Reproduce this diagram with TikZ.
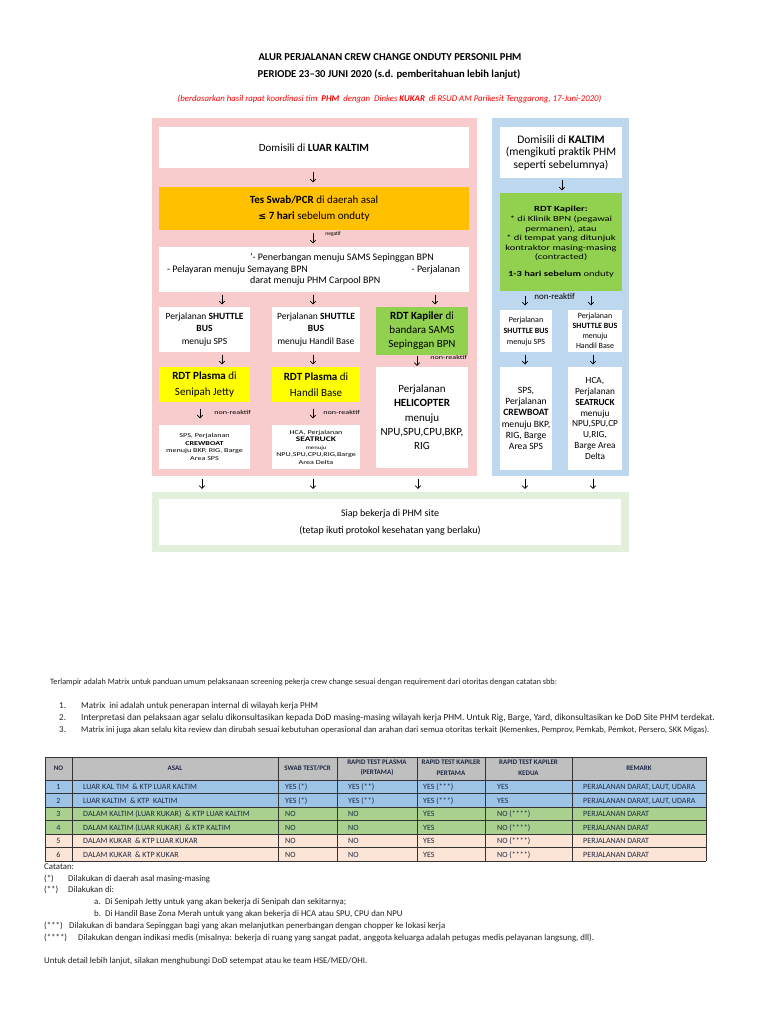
\documentclass[tikz,border=0pt]{standalone}
\usepackage{fontspec}
\setmainfont{Carlito}
\newfontfamily\wf[FakeStretch=1.35]{Carlito}
\newfontfamily\dvs{DejaVu Sans}
\usetikzlibrary{arrows.meta,calc}
\definecolor{pinkc}{HTML}{F8CBCD}
\definecolor{bluec}{HTML}{BDD7EE}
\definecolor{greenl}{HTML}{E2EFDA}
\definecolor{orangec}{HTML}{FFC000}
\definecolor{greenc}{HTML}{92D050}
\definecolor{yellowc}{HTML}{FFFF00}
\definecolor{redc}{HTML}{FF0000}
\definecolor{hdr}{HTML}{BFBFBF}
\definecolor{rowb}{HTML}{9DC3E6}
\definecolor{rowg}{HTML}{A9D08E}
\definecolor{rowp}{HTML}{FCE4D6}
\definecolor{celltext}{HTML}{1F2A44}
\definecolor{bodytext}{HTML}{222222}
\newcommand{\fsz}[2]{\fontsize{#1}{#2}\selectfont}
\newcommand{\tabrow}[9]{%
 \node[cell, anchor=base] (r#1n) at (58.5,#2) {#3};
 \node[cell] (r#1a) at (83,#2) {#4};
 \node[cell] (r#1s) at (285,#2) {#5};
 \node[cell] (r#1p) at (348,#2) {#6};
 \node[cell] (r#1k) at (423,#2) {#7};
 \node[cell] (r#1d) at (497,#2) {#8};
 \node[cell] (r#1r) at (583,#2) {#9};}
\begin{document}
\begin{tikzpicture}[x=1pt,y=-1pt,
  bx/.style 2 args={minimum width=#1, minimum height=#2, inner sep=0pt, outer sep=0pt, align=center},
  arr/.style={-{Straight Barb[length=2.8pt,width=5.4pt]}, line width=0.8pt, shorten <=#1, shorten >=#1},
  arr/.default=3pt,
  lab/.style={inner sep=0pt, font=\wf\fsz{6}{7}},
  txt/.style={inner sep=0pt, anchor=base west, font=\fsz{8.8}{11}, text=bodytext},
  cell/.style={inner sep=0pt, anchor=base west, font=\fsz{8}{9}, text=celltext},
  hcell/.style={inner sep=0pt, align=center, font=\bfseries\fsz{7}{10.5}, text=celltext},
  gridl/.style={draw=black!80, line width=0.6pt}
]
\useasboundingbox (0,0) rectangle (768,1024);
\fill[white] (0,0) rectangle (768,1024);

% ---------- titles
\node[font=\bfseries\fsz{10.6}{12}] (t1) at (390,57) {ALUR PERJALANAN CREW CHANGE ONDUTY PERSONIL PHM};
\node[font=\bfseries\fsz{10.6}{12}] (t2) at (389,74) {PERIODE 23–30 JUNI 2020 (s.d. pemberitahuan lebih lanjut)};
\node[font=\itshape\fsz{8.8}{10}, text=redc] (t3) at (389.5,99) {(berdasarkan hasil rapat koordinasi tim \ \textbf{PHM} \ dengan \ Dinkes \textbf{KUKAR} \ di RSUD AM Parikesit Tenggarong, 17-Juni-2020)};

% ---------- panels
\node[bx={325}{358}, fill=pinkc] (pink) at (314.5,297) {};
\node[bx={137}{358}, fill=bluec] (blue) at (560.5,297) {};
\node[bx={477}{60}, fill=greenl] (finp) at (390.5,522) {};
\node[bx={462}{46}, fill=white, font=\fsz{10}{17}] (fin) at (390,522) {Siap bekerja di PHM site\\(tetap ikuti protokol kesehatan yang berlaku)};

% ---------- pink column
\node[bx={310}{41}, fill=white, font=\fsz{11}{13}] (dom1) at (314,147.5) {Domisili di \textbf{LUAR KALTIM}};
\node[bx={310}{43}, fill=orangec, font=\fsz{11}{16}] (swab) at (314,208.5) {\textbf{Tes Swab/PCR} di daerah asal\\\textbf{{\dvs\fsz{9.5}{16}≤} 7 hari} sebelum onduty};
\node[bx={310}{45}, fill=white, font=\fsz{10}{11.7}] (travel) at (314,269.5) {\makebox[300pt][l]{\hspace*{86pt}'- Penerbangan menuju SAMS Sepinggan BPN}\\\makebox[300pt][l]{\hspace*{3pt}- Pelayaran menuju Semayang BPN\hfill - Perjalanan\hspace*{4pt}}\\\makebox[300pt][l]{\hspace*{86pt}darat menuju PHM Carpool BPN}};

\node[bx={91}{45}, fill=white, font=\fsz{9.5}{12.5}] (c1r1) at (204.5,329.5) {Perjalanan \textbf{SHUTTLE}\\\textbf{BUS}\\menuju SPS};
\node[bx={88}{45}, fill=white, font=\fsz{9.5}{12.5}] (c2r1) at (316,329.5) {Perjalanan \textbf{SHUTTLE}\\\textbf{BUS}\\menuju Handil Base};
\node[bx={92}{48}, fill=greenc, font=\fsz{11}{14}] (c3r1) at (422,331) {\textbf{RDT Kapiler} di\\bandara SAMS\\Sepinggan BPN};

\node[bx={91}{35}, fill=yellowc, font=\fsz{11}{16}] (c1r2) at (204.5,384.5) {\textbf{RDT Plasma} di\\Senipah Jetty};
\node[bx={88}{35}, fill=yellowc, font=\fsz{11}{16}] (c2r2) at (316,384.5) {\textbf{RDT Plasma} di\\Handil Base};
\node[bx={92}{101}, fill=white, font=\fsz{11}{14.3}] (c3r2) at (422,417.5) {Perjalanan\\\textbf{HELICOPTER}\\menuju\\NPU,SPU,CPU,BKP,\\RIG};

\node[bx={91}{44}, fill=white, font=\wf\fsz{6}{7.8}] (c1r3) at (204.5,447) {SPS, Perjalanan\\\textbf{CREWBOAT}\\menuju BKP, RIG, Barge\\Area SPS};
\node[bx={88}{44}, fill=white, font=\wf\fsz{6}{7.5}] (c2r3) at (316,447) {HCA, Perjalanan\\\textbf{\fsz{7}{7.5}SEATRUCK}\\{\fsz{5}{7.5}menuju}\\NPU,SPU,CPU,RIG,Barge\\Area Delta};

% ---------- blue column
\node[bx={122}{51}, fill=white, font=\fsz{11.5}{12.5}] (dom2) at (561,152.5) {Domisili di \textbf{KALTIM}\\(mengikuti praktik PHM\\seperti sebelumnya)};
\node[bx={122}{98}, fill=greenc, font=\wf\fsz{7.8}{9.6}] (g2) at (561,242) {\textbf{RDT Kapiler:}\\* di Klinik BPN (pegawai\\permanen), atau\\* di tempat yang ditunjuk\\kontraktor masing-masing\\(contracted)\\[7pt]\textbf{1-3 hari sebelum} onduty};
\node[bx={52}{42}, fill=white, font=\fsz{8}{11}] (b1r1) at (526,331) {Perjalanan\\\textbf{SHUTTLE BUS}\\menuju SPS};
\node[bx={54}{42}, fill=white, font=\fsz{8}{10}] (b2r1) at (595,331) {Perjalanan\\\textbf{SHUTTLE BUS}\\menuju\\Handil Base};
\node[bx={52}{103}, fill=white, font=\fsz{9.6}{11.3}] (b1r2) at (526,418.5) {SPS,\\Perjalanan\\\textbf{CREWBOAT}\\menuju BKP,\\RIG, Barge\\Area SPS};
\node[bx={54}{103}, fill=white, font=\fsz{9.3}{10.9}] (b2r2) at (595,418.5) {HCA,\\Perjalanan\\\textbf{SEATRUCK}\\menuju\\NPU,SPU,CP\\U,RIG,\\Barge Area\\Delta};

% ---------- arrow columns
\coordinate (xm) at (313,0);
\coordinate (xc1a) at (222,0);
\coordinate (xc3a) at (435,0);
\coordinate (xc3b) at (417,0);
\coordinate (xc1b) at (200,0);
\coordinate (xf1) at (202,0);
\coordinate (xf3) at (418,0);
\coordinate (xb0) at (562,0);
\coordinate (xb1) at (525,0);
\coordinate (xb2) at (591,0);
\coordinate (xbb2) at (593,0);

\draw[arr=4.5pt] (xm |- dom1.south) -- (xm |- swab.north);
\draw[arr=3.5pt] (xm |- swab.south) -- node[lab, font=\fsz{5.5}{7}, pos=0.25, right=12pt] (lneg) {negatif} (xm |- travel.north);
\draw[arr=2.5pt] (xc1a |- travel.south) -- (xc1a |- c1r1.north);
\draw[arr=2.5pt] (xm |- travel.south) -- (xm |- c2r1.north);
\draw[arr=2.5pt] (xc3a |- travel.south) -- (xc3a |- c3r1.north);
\draw[arr=2.5pt] (xc1a |- c1r1.south) -- (xc1a |- c1r2.north);
\draw[arr=2.5pt] (xm |- c2r1.south) -- (xm |- c2r2.north);
\draw[arr=1pt] (xc3b |- c3r1.south) -- node[lab, pos=0.2, right=13pt] (lnr3) {non-reaktif} (xc3b |- c3r2.north);
\draw[arr=6.5pt] (xc1b |- c1r2.south) -- node[lab, pos=0.45, right=14pt] (lnr1) {non-reaktif} (xc1b |- c1r3.north);
\draw[arr=6.5pt] (xm |- c2r2.south) -- node[lab, pos=0.45, right=10pt] (lnr2) {non-reaktif} (xm |- c2r3.north);

\draw[arr=2.5pt] (xb0 |- dom2.south) -- (xb0 |- g2.north);
\draw[arr=4.5pt] (xb1 |- g2.south) -- node[lab, font=\fsz{9}{10}, pos=0.3, right=9pt] (lnrb) {non-reaktif} (xb1 |- b1r1.north);
\draw[arr=4.5pt] (xb2 |- g2.south) -- (xb2 |- b2r1.north);
\draw[arr=2.5pt] (xb1 |- b1r1.south) -- (xb1 |- b1r2.north);
\draw[arr=2.5pt] (xbb2 |- b2r1.south) -- (xbb2 |- b2r2.north);

\draw[arr=3pt] (xf1 |- pink.south) -- (xf1 |- finp.north);
\draw[arr=3pt] (xm |- pink.south) -- (xm |- finp.north);
\draw[arr=3pt] (xf3 |- pink.south) -- (xf3 |- finp.north);
\draw[arr=3pt] (xb1 |- blue.south) -- (xb1 |- finp.north);
\draw[arr=3pt] (xbb2 |- blue.south) -- (xbb2 |- finp.north);

% ---------- intro text
\node[txt, font=\fsz{8.2}{10}] (intro) at (50,684.5) {Terlampir adalah Matrix untuk panduan umum pelaksanaan screening pekerja crew change sesuai dengan requirement dari otoritas dengan catatan sbb:};
\node[txt, font=\fsz{9}{11}] (n1) at (59,708.5) {1.};
\node[txt, font=\fsz{9}{11}] (i1) at (81,708.5) {Matrix \ ini adalah untuk penerapan internal di wilayah kerja PHM};
\node[txt, font=\fsz{9}{11}] (n2) at (59,720.5) {2.};
\node[txt, font=\fsz{9.3}{11}] (i2) at (81,720.5) {Interpretasi dan pelaksaan agar selalu dikonsultasikan kepada DoD masing-masing wilayah kerja PHM. Untuk Rig, Barge, Yard, dikonsultasikan ke DoD Site PHM terdekat.};
\node[txt, font=\fsz{9}{11}] (n3) at (59,732.5) {3.};
\node[txt, font=\fsz{8.6}{11}] (i3) at (81,732.5) {Matrix ini juga akan selalu kita review dan dirubah sesuai kebutuhan operasional dan arahan dari semua otoritas terkait (Kemenkes, Pemprov, Pemkab, Pemkot, Persero, SKK Migas).};

% ---------- table
\fill[hdr] (45,757) rectangle (706,780);
\fill[rowb] (45,780) rectangle (706,807);
\fill[rowg] (45,807) rectangle (706,834);
\fill[rowp] (45,834) rectangle (706,861);
\foreach \yy in {757,780,793.5,807,820.5,834,847.5,861} \draw[gridl] (45,\yy) -- (706,\yy);
\foreach \xx in {45,72,278,337,417,485,572,706} \draw[gridl] (\xx,757) -- (\xx,861);

\node[hcell] (hno) at (58.5,768.5) {NO};
\node[hcell] (has) at (175,768.5) {ASAL};
\node[hcell] (hsw) at (307.5,768.5) {SWAB TEST/PCR};
\node[hcell] (hpl) at (377,767.5) {RAPID TEST PLASMA\\(PERTAMA)};
\node[hcell] (hk1) at (451,767.5) {RAPID TEST KAPILER\\PERTAMA};
\node[hcell] (hk2) at (528.5,767.5) {RAPID TEST KAPILER\\KEDUA};
\node[hcell] (hrm) at (639,768.5) {REMARK};

\tabrow{1}{789.6}{1}{LUAR KAL TIM \ \& KTP LUAR KALTIM}{YES (*)}{YES (**)}{YES (***)}{YES}{PERJALANAN DARAT, LAUT, UDARA}
\tabrow{2}{803.1}{2}{LUAR KALTIM \ \& KTP \ KALTIM}{YES (*)}{YES (**)}{YES (***)}{YES}{PERJALANAN DARAT, LAUT, UDARA}
\tabrow{3}{816.6}{3}{DALAM KALTIM (LUAR KUKAR) \ \& KTP LUAR KALTIM}{NO}{NO}{YES}{NO (****)}{PERJALANAN DARAT}
\tabrow{4}{830.1}{4}{DALAM KALTIM (LUAR KUKAR) \ \& KTP KALTIM}{NO}{NO}{YES}{NO (****)}{PERJALANAN DARAT}
\tabrow{5}{843.6}{5}{DALAM KUKAR \ \& KTP LUAR KUKAR}{NO}{NO}{YES}{NO (****)}{PERJALANAN DARAT}
\tabrow{6}{857.1}{6}{DALAM KUKAR \ \& KTP KUKAR}{NO}{NO}{YES}{NO (****)}{PERJALANAN DARAT}

% ---------- notes
\node[txt] (cat) at (44,869) {Catatan:};
\node[txt] (s1) at (44,881) {(*)};
\node[txt] (s1t) at (68,881) {Dilakukan di daerah asal masing-masing};
\node[txt] (s2) at (44,892.5) {(**)};
\node[txt] (s2t) at (68,892.5) {Dilakukan di:};
\node[txt] (sa) at (94,904) {a.};
\node[txt] (sat) at (105,904) {Di Senipah Jetty untuk yang akan bekerja di Senipah dan sekitarnya;};
\node[txt] (sb) at (94,916) {b.};
\node[txt] (sbt) at (105,916) {Di Handil Base Zona Merah untuk yang akan bekerja di HCA atau SPU, CPU dan NPU};
\node[txt] (s3) at (44,928) {(***)};
\node[txt] (s3t) at (69,928) {Dilakukan di bandara Sepinggan bagi yang akan melanjutkan penerbangan dengan chopper ke lokasi kerja};
\node[txt] (s4) at (44,940) {(****)};
\node[txt] (s4t) at (78,940) {Dilakukan dengan indikasi medis (misalnya: bekerja di ruang yang sangat padat, anggota keluarga adalah petugas medis pelayanan langsung, dll).};
\node[txt] (unt) at (44,963) {Untuk detail lebih lanjut, silakan menghubungi DoD setempat atau ke team HSE/MED/OHI.};
\end{tikzpicture}
\end{document}
